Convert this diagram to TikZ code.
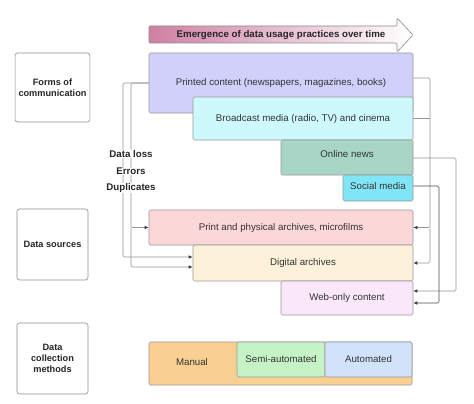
\documentclass[tikz,border=0pt]{standalone}
\usepackage{fontspec}
\setmainfont{Liberation Sans}
\usetikzlibrary{arrows.meta}
\definecolor{cpc}{HTML}{D0D0FB}
\definecolor{cbc}{HTML}{CDF8FC}
\definecolor{con}{HTML}{A8D5C5}
\definecolor{csm}{HTML}{80E6F5}
\definecolor{cpa}{HTML}{FCD7D7}
\definecolor{cda}{HTML}{FDF1DA}
\definecolor{cwo}{HTML}{FAE8FA}
\definecolor{cman}{HTML}{F9CF92}
\definecolor{csemi}{HTML}{C6F3C6}
\definecolor{cauto}{HTML}{D0E3FB}
\definecolor{cpink}{HTML}{CF80A2}
\definecolor{ctext}{HTML}{333333}
\begin{document}
\begin{tikzpicture}[x=1pt,y=-1pt,
  box/.style={draw=black!40, line width=0.6pt, rounded corners=1.5pt, inner sep=0pt,
    font=\fontsize{9.7}{11.5}\selectfont, text=ctext},
  lbl/.style={draw=black!45, line width=0.6pt, rounded corners=2.5pt, align=center,
    font=\bfseries\fontsize{9.2}{11}\selectfont, minimum width=71pt, text=black!85},
  conn/.style={draw=black!42, line width=0.6pt, rounded corners=1.5pt,
    -{Latex[length=4pt,width=3.5pt,color=black!75]}},
  plain/.style={draw=black!42, line width=0.6pt, rounded corners=1.5pt},
  tag/.style={fill=white, inner sep=0.6pt, font=\bfseries\fontsize{9.7}{11}\selectfont, text=black!85},
  txt/.style={inner sep=0pt, font=\fontsize{9.7}{11.5}\selectfont, text=ctext}]
\fill[white] (0,0) rectangle (474,404);
\useasboundingbox (0,0) rectangle (474,404);

% title arrow
\path[draw=black!45, line width=0.6pt, left color=cpink, right color=white, rounded corners=1pt]
  (149,26) -- (397,26) -- (397,18) -- (413,35) -- (397,52) -- (397,43) -- (149,43) -- cycle;
\node[inner sep=0pt, font=\bfseries\fontsize{9.7}{11}\selectfont, text=black!85] (title) at (281,35) {Emergence of data usage practices over time};

% left labels
\node[lbl, minimum height=69pt] (forms) at (52.5,87.5) {Forms of\\communication};
\node[lbl, minimum height=71pt] (ds) at (52.5,244.5) {Data sources};
\node[lbl, minimum height=71pt] (dcm) at (52.5,358.5) {Data\\collection\\methods};

% forms of communication
\node[box, fill=cpc, minimum width=264pt, minimum height=60pt] (pc) at (281,83) {Printed content (newspapers, magazines, books)};
\node[box, fill=cbc, minimum width=220pt, minimum height=43pt] (bc) at (303,118.5) {Broadcast media (radio, TV) and cinema};
\node[box, fill=con, minimum width=132pt, minimum height=35pt] (on) at (347,157.5) {};
\node[txt] (ontext) at (347,154.5) {Online news};
\node[box, fill=csm, minimum width=70pt, minimum height=26pt] (sm) at (378,188) {};
\node[txt] (smtext) at (378,186) {Social media};

% data sources
\node[box, fill=cpa, minimum width=264pt, minimum height=35pt] (pa) at (281,227.5) {Print and physical archives, microfilms};
\node[box, fill=cda, minimum width=220pt, minimum height=36pt] (da) at (303,263) {Digital archives};
\node[box, fill=cwo, minimum width=132pt, minimum height=34pt] (wo) at (347,298) {Web-only content};

% data collection methods
\node[box, fill=cman, minimum width=263pt, minimum height=43pt] (man) at (280.5,363.5) {};
\node[txt] (mantext) at (192,362) {Manual};
\node[box, fill=csemi, minimum width=88pt, minimum height=35pt] (semi) at (281,359.5) {Semi-automated};
\node[box, fill=cauto, minimum width=87pt, minimum height=35pt] (auto) at (368.5,359.5) {Automated};

% left connectors
\draw[conn] (pc.west) -- (123,83) |- ([yshift=6pt]da.west);
\draw[conn] (pc.west) -- (131,83) |- (pa.west);
\draw[conn] (131,227.5) |- ([yshift=-4pt]da.west);

% right connectors
\draw[conn] ([yshift=5pt]pc.east) -| (430,227.5) -- (pa.east);
\draw[plain] (bc.east) -- (430,118.5);
\draw[conn] (430,227.5) |- (da.east);
\draw[conn] ([yshift=-0.5pt]on.east) -| (456,291) -- ([yshift=7pt]wo.east);
\draw[conn, draw=black!70] ([yshift=2pt]sm.east) -| (439,303) -- ([yshift=-5pt]wo.east);

% issue labels
\node[tag] (loss) at (131,154) {Data loss};
\node[tag] (err) at (131,171.5) {Errors};
\node[tag] (dup) at (131,188) {Duplicates};
\end{tikzpicture}
\end{document}
